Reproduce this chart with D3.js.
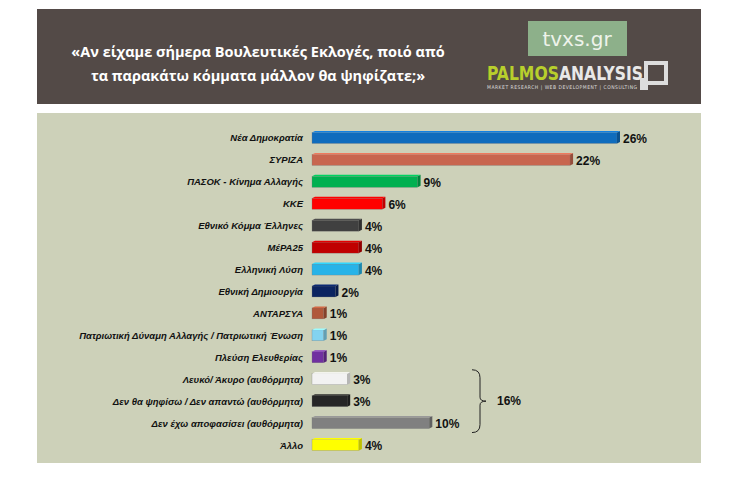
<!DOCTYPE html>
<html><head><meta charset="utf-8">
<script src="https://cdn.jsdelivr.net/npm/d3@7"></script>
<style>body{margin:0;background:#fff}svg{display:block}</style>
</head><body><div id="chart"></div>
<script>
const WIDTH = 736;
const HEIGHT = 479;

const parties = ['Νέα Δημοκρατία', 'ΣΥΡΙΖΑ', 'ΠΑΣΟΚ - Κίνημα Αλλαγής', 'ΚΚΕ', 'Εθνικό Κόμμα Έλληνες',
  'ΜέΡΑ25', 'Ελληνική Λύση', 'Εθνική Δημιουργία', 'ΑΝΤΑΡΣΥΑ',
  'Πατριωτική Δύναμη Αλλαγής / Πατριωτική Ένωση', 'Πλεύση Ελευθερίας',
  'Λευκό/ Άκυρο (αυθόρμητα)', 'Δεν θα ψηφίσω / Δεν απαντώ (αυθόρμητα)',
  'Δεν έχω αποφασίσει (αυθόρμητα)', 'Άλλο'];
const values = [26, 22, 9, 6, 4, 4, 4, 2, 1, 1, 1, 3, 3, 10, 4];
const colors = ['#0f6cbd', '#c8664f', '#00b050', '#ff0000', '#404040', '#c00000', '#27b3e8', '#0b2461',
  '#b0583a', '#83d3f0', '#7030a0', '#f2f2f2', '#262626', '#808080', '#ffff00'];
const bracketLabel = '16%';

const svg = d3.select('#chart').append('svg').attr('width', WIDTH).attr('height', HEIGHT);

// header
svg.append('rect').attr('x', 37).attr('y', 9).attr('width', 664).attr('height', 95).attr('fill', '#534a47');
const title = svg.append('text').attr('fill', '#fff').attr('text-anchor', 'middle')
  .attr('font-family', 'Open Sans').attr('font-weight', 'bold').attr('font-size', 14.5);
title.append('tspan').attr('x', 258).attr('y', 57).text('«Αν είχαμε σήμερα Βουλευτικές Εκλογές, ποιό από');
title.append('tspan').attr('x', 258).attr('y', 81).text('τα παρακάτω κόμματα μάλλον θα ψηφίζατε;»');

// logos
svg.append('rect').attr('x', 528).attr('y', 21).attr('width', 99).attr('height', 35).attr('fill', '#8db08a');
svg.append('text').attr('x', 577).attr('y', 46).attr('text-anchor', 'middle').attr('fill', '#eef3ea')
  .attr('font-family', 'DejaVu Sans').attr('font-size', 20).text('tvxs.gr');
const logo = svg.append('text').attr('x', 487).attr('y', 80).attr('font-family', 'DejaVu Sans Condensed')
  .attr('font-weight', 'bold').attr('font-size', 19).attr('textLength', 156).attr('lengthAdjust', 'spacingAndGlyphs');
logo.append('tspan').attr('fill', '#b8cf2c').text('PALMOS');
logo.append('tspan').attr('fill', '#e8e8e8').text('ANALYSIS');
svg.append('text').attr('x', 487).attr('y', 89).attr('fill', '#ddd').attr('font-family', 'DejaVu Sans Condensed')
  .attr('font-size', 5).attr('textLength', 150).text('MARKET RESEARCH | WEB DEVELOPMENT | CONSULTING');
svg.append('rect').attr('x', 646).attr('y', 63).attr('width', 20).attr('height', 20).attr('fill', 'none')
  .attr('stroke', '#ddd').attr('stroke-width', 4);
svg.append('rect').attr('x', 640).attr('y', 78).attr('width', 8).attr('height', 12).attr('fill', '#ddd');

// chart panel
svg.append('rect').attr('x', 37).attr('y', 113).attr('width', 664).attr('height', 350).attr('fill', '#cdd1b9');

const x = d3.scaleLinear().domain([0, 26]).range([312, 617]);
const y = d3.scaleBand().domain(parties).range([127, 456]).paddingInner(0.5).paddingOuter(0.25);
const depth = 3;

const rows = svg.append('g').selectAll('g').data(parties).join('g');
rows.append('text').attr('x', 303).attr('y', d => y(d) + y.bandwidth() / 2 + 3.5)
  .attr('text-anchor', 'end').attr('font-family', 'Liberation Sans').attr('font-style', 'italic')
  .attr('font-weight', 'bold').attr('font-size', 9.5).attr('fill', '#111').text(d => d);
rows.append('rect').attr('x', x(0)).attr('y', (d, i) => y(d))
  .attr('width', (d, i) => x(values[i]) - x(0)).attr('height', y.bandwidth())
  .attr('fill', (d, i) => colors[i]).attr('stroke', '#777').attr('stroke-width', 0.3);
rows.append('polygon').attr('points', (d, i) => {
  const x1 = x(values[i]), y0 = y(d), y1 = y0 + y.bandwidth();
  return `${x1},${y0} ${x1 + depth},${y0 - depth / 2} ${x1 + depth},${y1 - depth / 2} ${x1},${y1}`;
}).attr('fill', (d, i) => d3.color(colors[i]).darker(0.8));
rows.append('polygon').attr('points', (d, i) => {
  const x1 = x(values[i]), y0 = y(d);
  return `${x(0)},${y0} ${x(0) + depth},${y0 - depth / 2} ${x1 + depth},${y0 - depth / 2} ${x1},${y0}`;
}).attr('fill', (d, i) => d3.color(colors[i]).brighter(0.5));
rows.append('text').attr('x', (d, i) => x(values[i]) + depth + 3)
  .attr('y', d => y(d) + y.bandwidth() / 2 + 5).attr('font-family', 'Liberation Sans')
  .attr('font-weight', 'bold').attr('font-size', 12).attr('fill', '#111').text((d, i) => values[i] + '%');

// bracket around undecided group
const yTop = y(parties[11]) - 4, yBot = y(parties[13]) + y.bandwidth() + 4, bx = 480;
svg.append('path').attr('fill', 'none').attr('stroke', '#222').attr('stroke-width', 1)
  .attr('d', `M${bx - 8},${yTop} Q${bx},${yTop} ${bx},${yTop + 8} L${bx},${(yTop + yBot) / 2 - 4}
    Q${bx},${(yTop + yBot) / 2} ${bx + 6},${(yTop + yBot) / 2} Q${bx},${(yTop + yBot) / 2} ${bx},${(yTop + yBot) / 2 + 4}
    L${bx},${yBot - 8} Q${bx},${yBot} ${bx - 8},${yBot}`);
svg.append('text').attr('x', bx + 17).attr('y', (yTop + yBot) / 2 + 4).attr('font-family', 'Liberation Sans')
  .attr('font-weight', 'bold').attr('font-size', 12).attr('fill', '#111').text(bracketLabel);
</script></body></html>
